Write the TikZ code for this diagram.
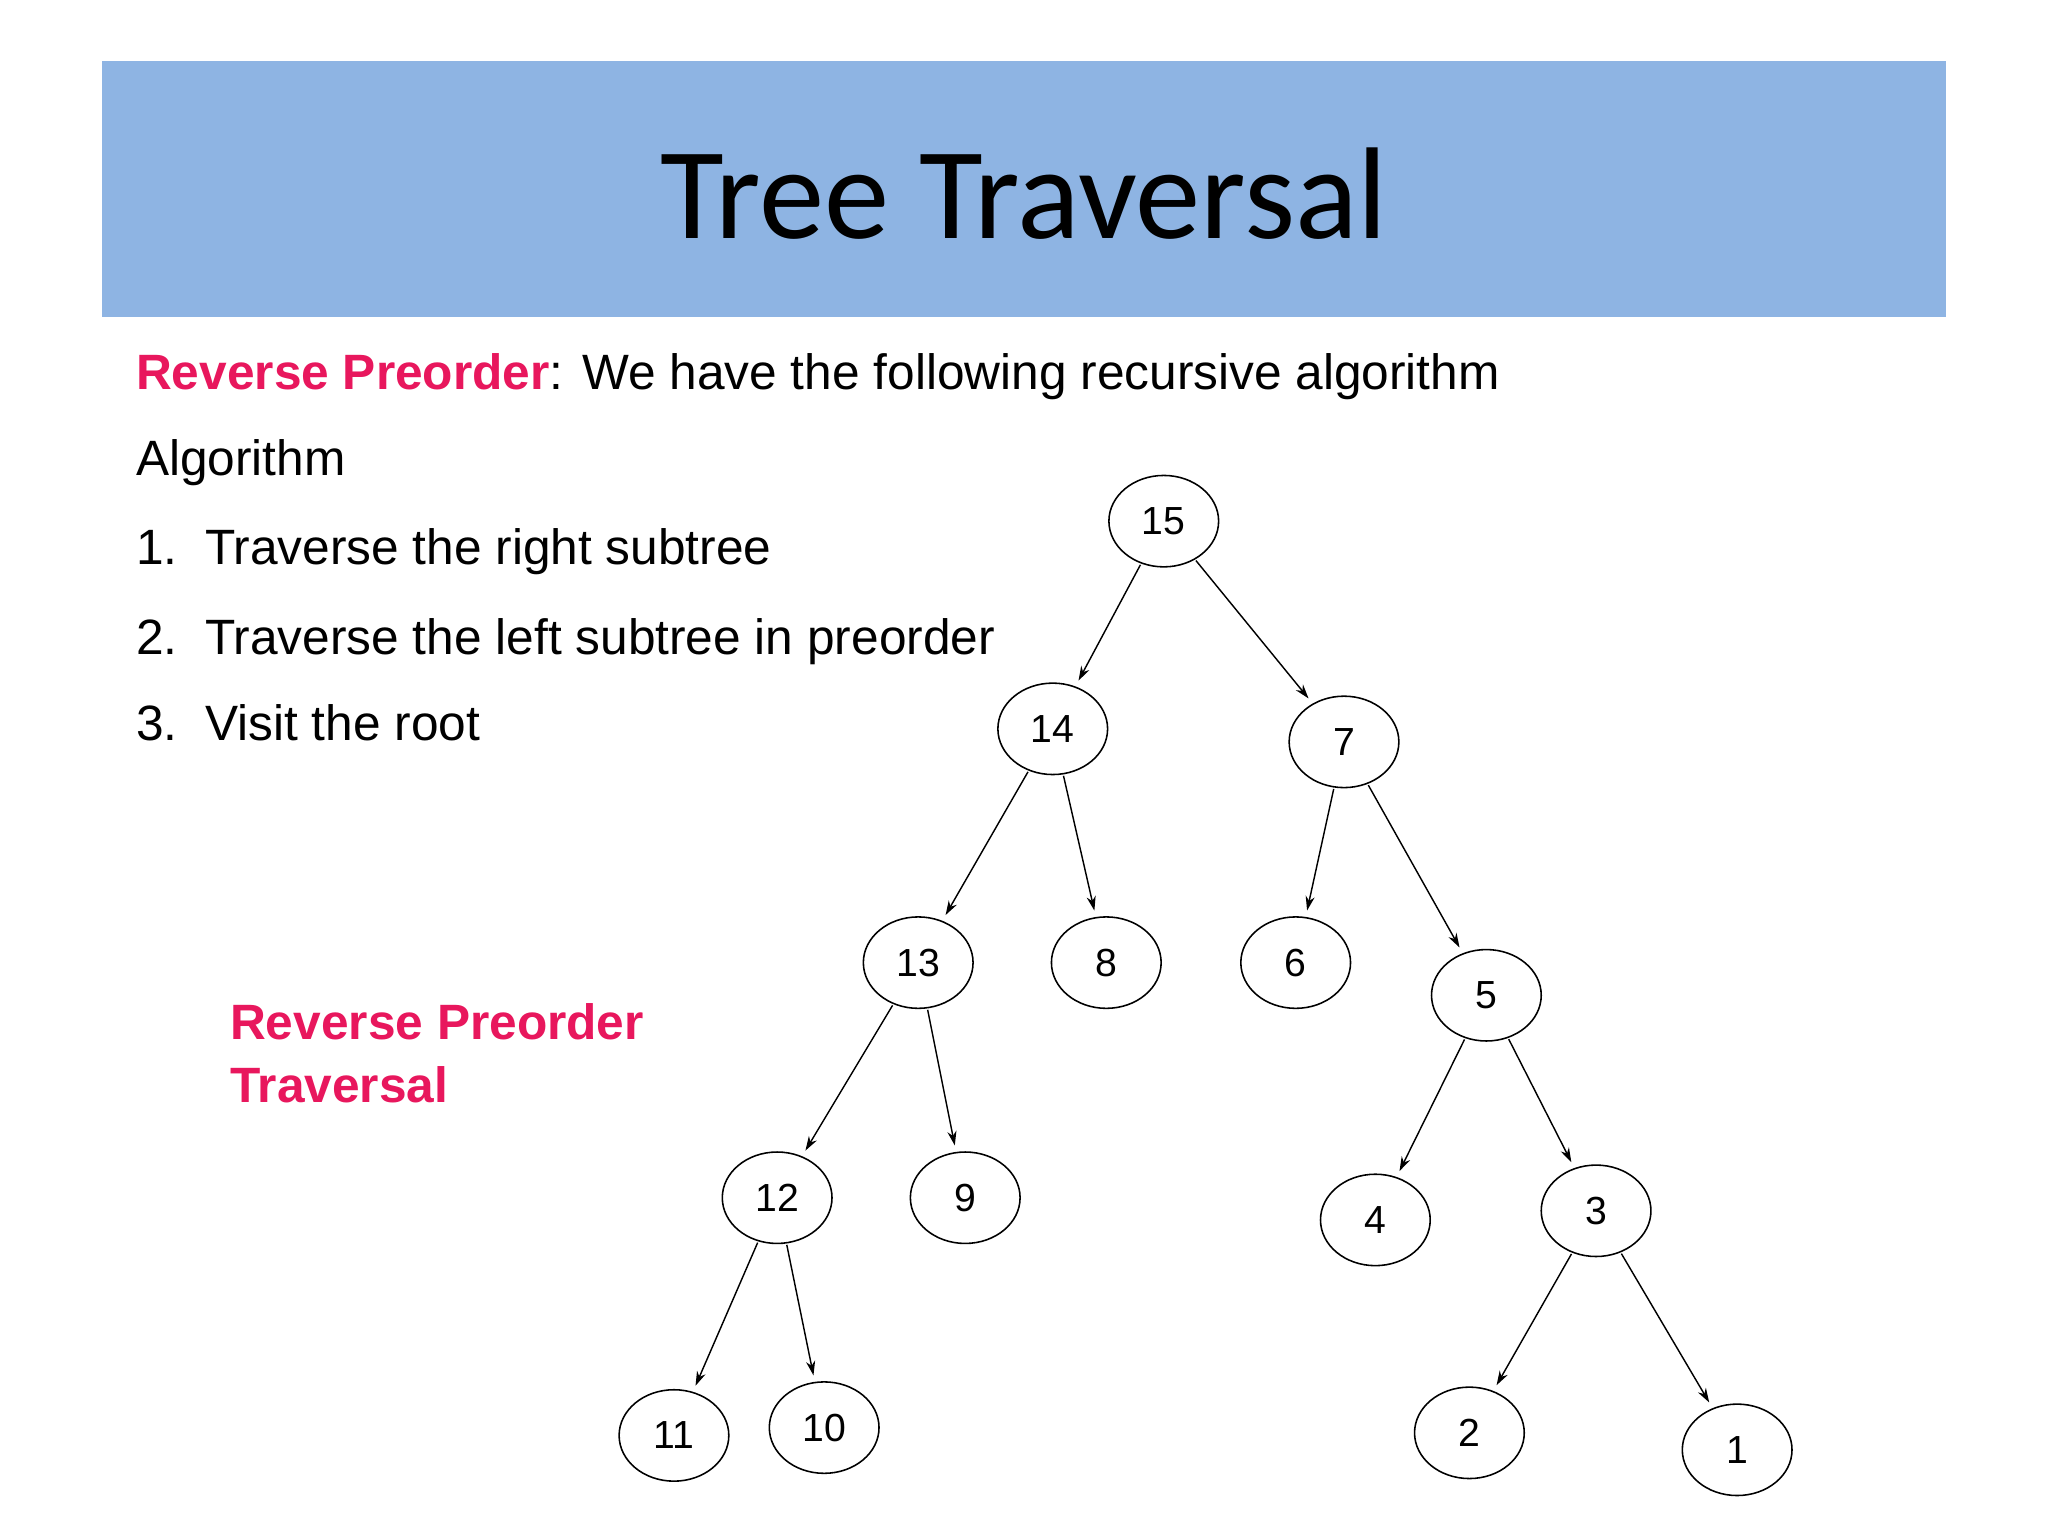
\documentclass[tikz,border=0pt]{standalone}
\usepackage{fontspec}
\setmainfont{Liberation Sans}
\newfontfamily\titlefont{Carlito}
\usetikzlibrary{shapes.geometric,arrows.meta}
\definecolor{barblue}{HTML}{8EB4E3}
\definecolor{hotred}{HTML}{E8175D}
\tikzset{
  tn/.style={ellipse,draw,line width=1.2pt,minimum width=84pt,minimum height=70pt,inner sep=0pt,font=\fontsize{30}{32}\selectfont},
  ed/.style={-{Stealth[length=11pt,width=7pt]},line width=1.1pt,shorten >=5pt,shorten <=1pt},
  body/.style={anchor=base west,font=\fontsize{38}{44}\selectfont,inner sep=0pt}
}
\begin{document}
\begin{tikzpicture}[x=1pt,y=-1pt]
\useasboundingbox[fill=white] (0,0) rectangle (1568,1176);
\fill[barblue] (78,47) rectangle (1490,243);
\node[font=\titlefont\fontsize{100}{110}\selectfont] (title) at (784,148) {Tree Traversal};
\node[body] (l1) at (104,298) {\textcolor{hotred}{\textbf{Reverse Preorder}}: We have the following recursive algorithm};
\node[body] (l2) at (104,364) {Algorithm};
\node[body] (l3) at (104,432) {1.\ \ Traverse the right subtree};
\node[body] (l4) at (104,501) {2.\ \ Traverse the left subtree in preorder};
\node[body] (l5) at (104,567) {3.\ \ Visit the root};
\node[body,text=hotred,font=\bfseries\fontsize{38}{44}\selectfont] (r1) at (176,796) {Reverse Preorder};
\node[body,text=hotred,font=\bfseries\fontsize{38}{44}\selectfont] (r2) at (176,844) {Traversal};
\node[tn] (n15) at (891,399) {15};
\node[tn] (n14) at (806,558) {14};
\node[tn] (n7) at (1029,568) {7};
\node[tn] (n13) at (703,737) {13};
\node[tn] (n8) at (847,737) {8};
\node[tn] (n6) at (992,737) {6};
\node[tn] (n5) at (1138,762) {5};
\node[tn] (n12) at (595,917) {12};
\node[tn] (n9) at (739,917) {9};
\node[tn] (n4) at (1053,934) {4};
\node[tn] (n3) at (1222,927) {3};
\node[tn] (n11) at (516,1099) {11};
\node[tn] (n10) at (631,1093) {10};
\node[tn] (n2) at (1125,1097) {2};
\node[tn] (n1) at (1330,1110) {1};
\foreach \a/\b in {15/14,15/7,14/13,14/8,7/6,7/5,13/12,13/9,5/4,5/3,12/11,12/10,3/2,3/1}
  \draw[ed] (n\a) -- (n\b);
\end{tikzpicture}
\end{document}
